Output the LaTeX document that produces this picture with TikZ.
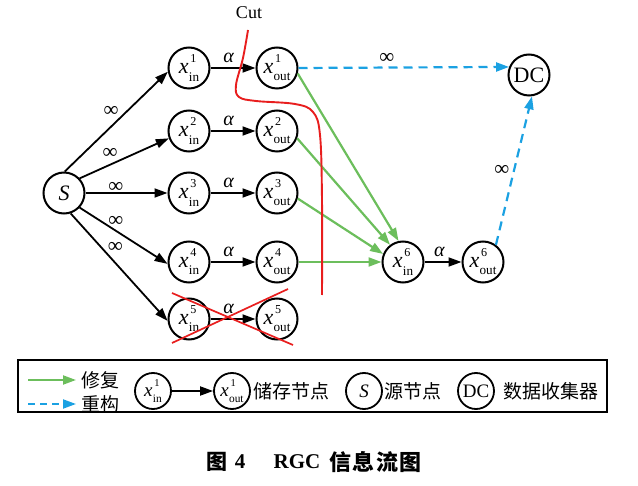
\documentclass[tikz,border=0pt]{standalone}
\usepackage{fontspec}
\setmainfont{Liberation Serif}
\newfontfamily\cjk{Noto Sans CJK SC}
\usetikzlibrary{arrows.meta}
\definecolor{gcol}{RGB}{108,190,92}
\definecolor{bcol}{RGB}{27,161,226}
\definecolor{rcol}{RGB}{232,30,30}
\newcommand{\xlab}[3]{\fontsize{#3}{#3}\selectfont\textit{x}\kern0.3pt\rlap{\kern1.5pt\raisebox{0.5em}{\fontsize{0.55\dimexpr#3pt\relax}{1}\selectfont #2}}\raisebox{-0.32em}{\fontsize{0.6\dimexpr#3pt\relax}{1}\selectfont #1}}
\begin{document}
\begin{tikzpicture}[x=1pt,y=-1pt,
  nd/.style={circle,draw,line width=2pt,minimum size=41pt,inner sep=0pt,font=\fontsize{22}{24}\selectfont},
  lnd/.style={circle,draw,line width=1.8pt,minimum size=36pt,inner sep=0pt,font=\fontsize{19}{22}\selectfont},
  arr/.style={line width=1.8pt,-{Triangle[length=13pt,width=9pt]}},
  garr/.style={line width=2.2pt,draw=gcol,-{Triangle[length=13pt,width=9pt]},gcol},
  barr/.style={line width=2.2pt,draw=bcol,dash pattern=on 9pt off 6pt,-{Triangle[length=13pt,width=9pt]},bcol},
  inf/.style={font=\fontsize{21}{21}\selectfont,inner sep=0pt},
  al/.style={font=\fontsize{20}{20}\selectfont\itshape,inner sep=0pt},
  cn/.style={font=\cjk\fontsize{19}{19}\selectfont,inner sep=0pt},
  capn/.style={font=\fontsize{21}{21}\selectfont\bfseries,inner sep=0pt}]
\useasboundingbox (0,0) rectangle (638,486);
% nodes
\node[nd] (S) at (64,193) {\textit{S}};
\node[nd] (xi1) at (189,68) {\xlab{in}{1}{22}};
\node[nd] (xo1) at (277,68) {\xlab{out}{1}{22}};
\node[nd] (xi2) at (189,131) {\xlab{in}{2}{22}};
\node[nd] (xo2) at (277,131) {\xlab{out}{2}{22}};
\node[nd] (xi3) at (189,193) {\xlab{in}{3}{22}};
\node[nd] (xo3) at (277,193) {\xlab{out}{3}{22}};
\node[nd] (xi4) at (189,262) {\xlab{in}{4}{22}};
\node[nd] (xo4) at (277,262) {\xlab{out}{4}{22}};
\node[nd] (xi5) at (189,319) {\xlab{in}{5}{22}};
\node[nd] (xo5) at (277,319) {\xlab{out}{5}{22}};
\node[nd] (xi6) at (403,262) {\xlab{in}{6}{22}};
\node[nd] (xo6) at (483,262) {\xlab{out}{6}{22}};
\node[nd] (DC) at (529,75) {DC};
% source edges
\draw[arr] (S.88) -- node[inf,pos=0.45,yshift=15pt]{∞} (xi1.190);
\draw[arr] (S.43) -- node[inf,pos=0.34,yshift=11pt]{∞} (xi2.200);
\draw[arr] (S.east) -- node[inf,pos=0.37,yshift=6pt]{∞} (xi3.west);
\draw[arr] (S.-43) -- node[inf,pos=0.41,yshift=9pt]{∞} (xi4.185);
\draw[arr] (S.-72) -- node[inf,pos=0.46,yshift=15pt]{∞} (xi5.185);
% alpha edges
\foreach \k in {1,2,3,4,5,6}{
  \draw[arr] (xi\k.east) -- node[al,pos=0.4,yshift=10pt]{α} (xo\k.west);
}
% green repair
\draw[garr] (xo1.-15) -- (xi6.102);
\draw[garr] (xo2.-20) -- (xi6.127);
\draw[garr] (xo3.-15) -- (xi6.158);
\draw[garr] (xo4.east) -- (xi6.west);
% blue reconstruct
\draw[barr] (xo1.east) -- node[inf,pos=0.42,yshift=9pt,text=black]{∞} (DC.158);
\draw[barr] (xo6.53) -- node[inf,pos=0.5,xshift=-12pt,text=black]{∞} (DC.-82);
% cut
\draw[rcol,line width=1.9pt] plot[smooth,tension=0.6] coordinates{(248,30) (243,58) (236,85) (239,97) (256,101) (295,104) (313,112) (320,135) (322,200) (322,295)};
\node[font=\fontsize{18}{18}\selectfont] (cut) at (249,13) {Cut};
% cross
\draw[rcol,line width=1.7pt] (172,293) -- (293,345);
\draw[rcol,line width=1.7pt] (172,343) -- (288,289);
% legend
\draw[line width=1.3pt] (18,360) rectangle (607,412);
\coordinate (g1) at (28,380); \coordinate (g2) at (76,380);
\coordinate (b1) at (28,404); \coordinate (b2) at (76,404);
\draw[garr,line width=2pt] (g1) -- (g2);
\draw[barr,line width=2pt,dash pattern=on 7pt off 5pt] (b1) -- (b2);
\node[cn] (t1) at (100,380) {修复};
\node[cn] (t2) at (100,404) {重构};
\node[lnd] (li) at (153,391) {\xlab{in}{1}{19}};
\node[lnd] (lo) at (232,391) {\xlab{out}{1}{19}};
\draw[arr] (li.east) -- (lo.west);
\node[cn] (t3) at (291,391) {储存节点};
\node[lnd] (lS) at (364,391) {\textit{S}};
\node[cn] (t4) at (413,391) {源节点};
\node[lnd] (lD) at (476,391) {DC};
\node[cn] (t5) at (551,391) {数据收集器};
% caption
\node[capn] (c1) at (216.5,462) {\cjk\bfseries 图};
\node[capn] (c2) at (240,462) {4};
\node[capn] (c3) at (297,462) {RGC};
\node[capn,font=\cjk\bfseries\fontsize{22}{22}\selectfont] (c4) at (375.5,462) {信\kern1.5pt 息\kern1.5pt 流\kern1.5pt 图};
\end{tikzpicture}
\end{document}
